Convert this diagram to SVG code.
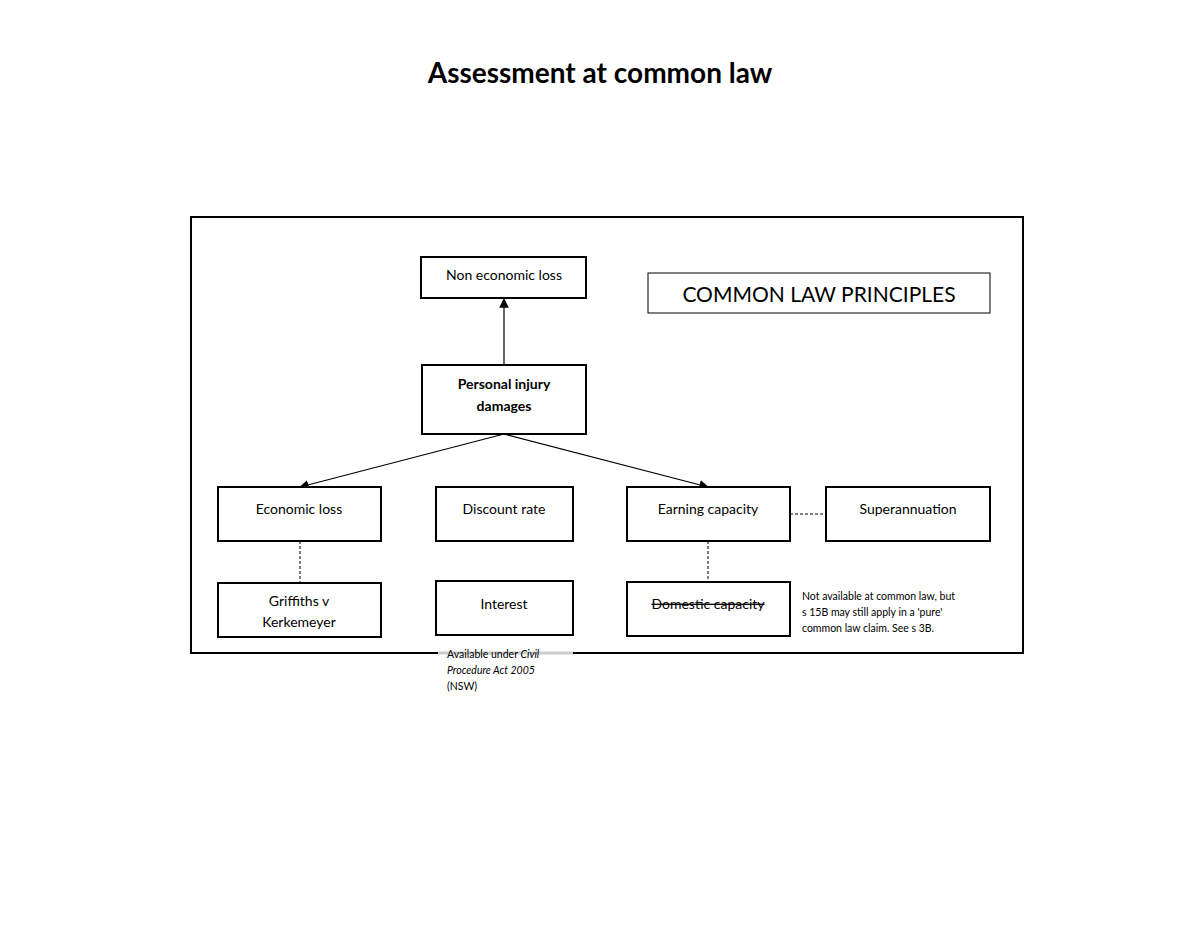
<svg xmlns="http://www.w3.org/2000/svg" width="1200" height="927" viewBox="0 0 1200 927">
<style>
text{font-family:Lato,"Open Sans",sans-serif;fill:#000}
.b{fill:#fff;stroke:#000;stroke-width:2}
.t{font-size:14px;text-anchor:middle}
.c{stroke:#000;stroke-width:1.2;fill:none}
.d{stroke:#000;stroke-width:1;stroke-dasharray:3,2;fill:none}
.s{font-size:10.5px}
</style>
<defs><marker id="a" viewBox="0 0 10 10" refX="9" refY="5" markerWidth="8" markerHeight="8" orient="auto"><path d="M0,0L10,5L0,10z" fill="#000"/></marker></defs>
<rect width="1200" height="927" fill="#fff"/>
<text x="600" y="83" font-size="28" font-weight="bold" text-anchor="middle">Assessment at common law</text>
<rect x="191" y="217" width="832" height="436" fill="none" stroke="#000" stroke-width="2"/>
<line x1="438" y1="653" x2="573" y2="653" stroke="#ccc" stroke-width="3"/>
<g id="connectors">
<line class="c" x1="504" y1="365" x2="504" y2="299" marker-end="url(#a)"/>
<line class="c" x1="504" y1="434" x2="300" y2="487" marker-end="url(#a)" stroke-width="1.8"/>
<line class="c" x1="504" y1="434" x2="708" y2="487" marker-end="url(#a)" stroke-width="1.8"/>
<line class="d" x1="300" y1="541" x2="300" y2="583"/>
<line class="d" x1="708" y1="541" x2="708" y2="582"/>
<line class="d" x1="790" y1="514" x2="826" y2="514"/>
</g>
<g id="nonecon"><rect class="b" x="421" y="257" width="165" height="41"/><text class="t" x="504" y="280">Non economic loss</text></g>
<g id="principles"><rect x="648" y="273" width="342" height="40" fill="#fff" stroke="#000" stroke-width="1"/><text x="819" y="302" font-size="21" text-anchor="middle">COMMON LAW PRINCIPLES</text></g>
<g id="pid"><rect class="b" x="422" y="365" width="164" height="69"/><text class="t" x="504" y="389" font-weight="bold">Personal injury</text><text class="t" x="504" y="411" font-weight="bold">damages</text></g>
<g id="econ"><rect class="b" x="218" y="487" width="163" height="54"/><text class="t" x="299" y="514">Economic loss</text></g>
<g id="discount"><rect class="b" x="436" y="487" width="137" height="54"/><text class="t" x="504" y="514">Discount rate</text></g>
<g id="earning"><rect class="b" x="627" y="487" width="163" height="54"/><text class="t" x="708" y="514">Earning capacity</text></g>
<g id="super"><rect class="b" x="826" y="487" width="164" height="54"/><text class="t" x="908" y="514">Superannuation</text></g>
<g id="griffiths"><rect class="b" x="218" y="583" width="163" height="54"/><text class="t" x="299" y="606">Griffiths v</text><text class="t" x="299" y="627">Kerkemeyer</text></g>
<g id="interest"><rect class="b" x="436" y="581" width="137" height="54"/><text class="t" x="504" y="609">Interest</text></g>
<g id="domestic"><rect class="b" x="627" y="582" width="163" height="54"/><text class="t" x="708" y="609" text-decoration="line-through">Domestic capacity</text></g>
<g id="note1"><text class="s" x="802" y="600">Not available at common law, but</text><text class="s" x="802" y="616">s 15B may still apply in a 'pure'</text><text class="s" x="802" y="632">common law claim. See s 3B.</text></g>
<g id="note2"><text class="s" x="447" y="658">Available under <tspan font-style="italic">Civil</tspan></text><text class="s" x="447" y="674" font-style="italic">Procedure Act 2005</text><text class="s" x="447" y="690">(NSW)</text></g>
</svg>
